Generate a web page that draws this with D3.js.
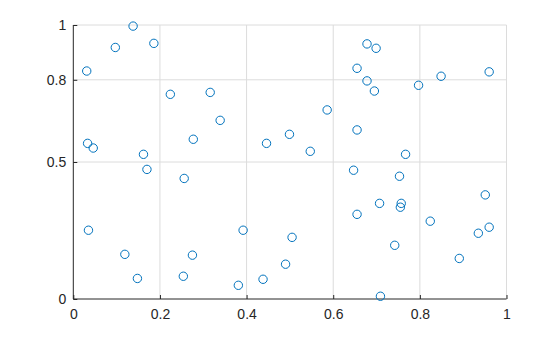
<!DOCTYPE html>
<html lang="en">
<head>
    <meta charset="utf-8">
    <title></title>
    <script src="https://d3js.org/d3.v7.min.js"></script>
    <style type="text/css">
        body{
            margin: 0;
            background: #fff;
        }
    </style>
</head>
<body>
    <div id="frame"></div>
    <script type="text/javascript">

        // values
        const xVals = [0.138, 0.097, 0.186, 0.031, 0.224, 0.316, 0.339, 0.033, 0.046, 0.277,
                       0.162, 0.170, 0.256, 0.035, 0.119, 0.148, 0.275, 0.254, 0.392, 0.381,
                       0.438, 0.446, 0.499, 0.505, 0.490, 0.547, 0.586, 0.678, 0.699, 0.655,
                       0.678, 0.695, 0.655, 0.647, 0.767, 0.753, 0.707, 0.655, 0.757, 0.755,
                       0.742, 0.709, 0.797, 0.849, 0.960, 0.824, 0.951, 0.960, 0.935, 0.891];
        const yVals = [0.996, 0.918, 0.933, 0.832, 0.747, 0.754, 0.652, 0.568, 0.551, 0.583,
                       0.528, 0.473, 0.440, 0.251, 0.163, 0.075, 0.160, 0.083, 0.251, 0.050,
                       0.072, 0.568, 0.601, 0.225, 0.127, 0.539, 0.690, 0.931, 0.915, 0.842,
                       0.796, 0.759, 0.617, 0.470, 0.528, 0.448, 0.349, 0.309, 0.349, 0.335,
                       0.196, 0.010, 0.780, 0.813, 0.829, 0.284, 0.380, 0.262, 0.240, 0.148];
        const xTicks = [0, 0.2, 0.4, 0.6, 0.8, 1];
        const yTicks = [0, 0.5, 0.8, 1];

        const w = 560, h = 337;
        const pLeft = 73.3, pRight = 506.5, pTop = 25, pBottom = 299;

        const x = d3.scaleLinear().domain([0, 1]).range([pLeft, pRight]);
        const y = d3.scaleLinear().domain([0, 1]).range([pBottom, pTop]);

        const svg = d3.select("#frame").append("svg")
            .attr("width", w)
            .attr("height", h);

        // grid
        svg.append("g").selectAll("line")
            .data(xTicks.filter(d => d > 0))
            .enter().append("line")
            .attr("x1", d => x(d)).attr("x2", d => x(d))
            .attr("y1", pTop).attr("y2", pBottom)
            .attr("stroke", "#dcdcdc").attr("stroke-width", 1);

        svg.append("g").selectAll("line")
            .data(yTicks.filter(d => d > 0))
            .enter().append("line")
            .attr("x1", pLeft).attr("x2", pRight)
            .attr("y1", d => y(d)).attr("y2", d => y(d))
            .attr("stroke", "#dcdcdc").attr("stroke-width", 1);

        // axes, ticks inward
        const xAxis = d3.axisBottom(x).tickValues(xTicks).tickSize(-4).tickPadding(10)
            .tickFormat(d3.format("~g"));
        const yAxis = d3.axisLeft(y).tickValues(yTicks).tickSize(-4).tickPadding(7)
            .tickFormat(d3.format("~g"));

        const gx = svg.append("g")
            .attr("transform", "translate(0," + pBottom + ")")
            .call(xAxis);
        const gy = svg.append("g")
            .attr("transform", "translate(" + pLeft + ",0)")
            .call(yAxis);

        gx.select(".domain").attr("d", "M" + pLeft + ",0H" + pRight);
        gy.select(".domain").attr("d", "M0," + pTop + "V" + pBottom);

        [gx, gy].forEach(g => {
            g.attr("font-size", 14).attr("font-family", "'Liberation Sans', Arial, sans-serif");
            g.select(".domain").attr("stroke", "#262626");
            g.selectAll(".tick line").attr("stroke", "#262626");
            g.selectAll(".tick text").attr("fill", "#262626");
        });

        // points
        svg.append("g").selectAll("circle")
            .data(xVals.map((d, i) => [d, yVals[i]]))
            .enter().append("circle")
            .attr("cx", d => x(d[0]))
            .attr("cy", d => y(d[1]))
            .attr("r", 4.2)
            .attr("fill", "none")
            .attr("stroke", "#0072BD")
            .attr("stroke-width", 1);

    </script>
</body>
</html>
